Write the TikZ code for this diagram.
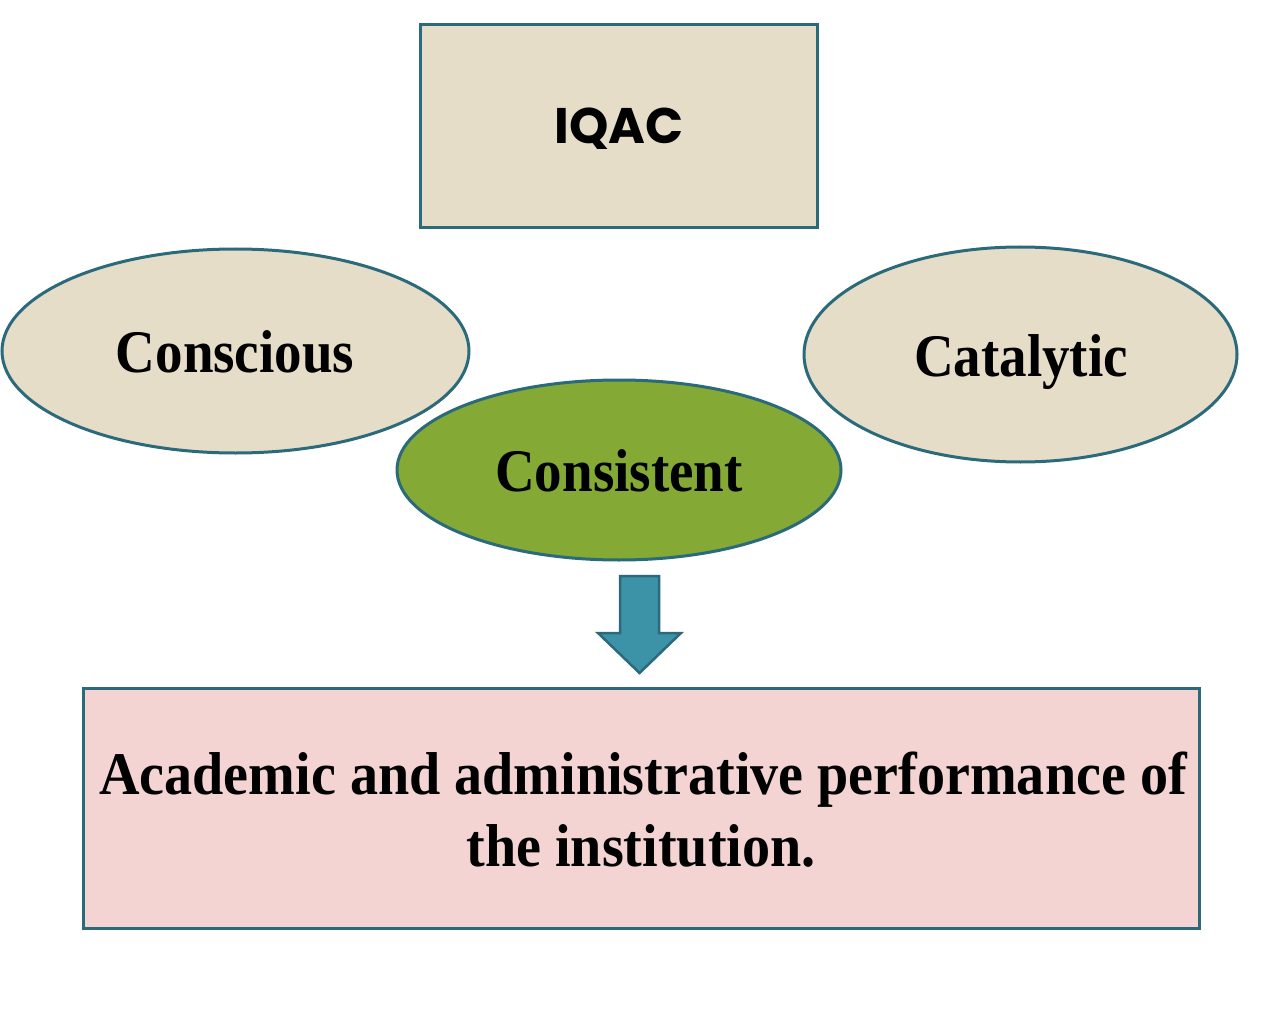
\documentclass[tikz,border=0pt]{standalone}
\usepackage{fontspec}
\setmainfont{Liberation Serif}
\newfontfamily\gothic{Poppins}
\usetikzlibrary{shapes.geometric}
\definecolor{tan}{HTML}{E5DDC8}
\definecolor{tealline}{HTML}{2A6A7A}
\definecolor{leaf}{HTML}{84A935}
\definecolor{arrowfill}{HTML}{3C93A8}
\definecolor{pinkbox}{HTML}{F4D3D3}
\newcommand{\tall}[2][1]{\scalebox{#1}[1.1]{#2}}
\tikzset{
  outl/.style={draw=tealline, line width=3pt},
  tanell/.style={outl, ellipse, fill=tan, inner sep=0pt},
  bigtext/.style={font=\fontsize{55}{70}\selectfont\bfseries, inner sep=0pt, anchor=base}
}
\begin{document}
\begin{tikzpicture}[x=1pt,y=-1pt]
\useasboundingbox (0,0) rectangle (1267,1011);
\node[outl, fill=tan, minimum width=397pt, minimum height=203pt, inner sep=0pt] (iqac) at (618.5,126.5) {};
\node[font=\gothic\fontsize{50}{58}\selectfont\bfseries, inner sep=0pt, anchor=base] (iqactext) at (619,144) {IQAC};
\node[tanell, minimum width=467pt, minimum height=204pt] (conscious) at (235.5,351) {};
\node[bigtext] (consciouslabel) at (235,372) {\tall{Conscious}};
\node[tanell, minimum width=433pt, minimum height=215pt] (catalytic) at (1020.5,354.5) {};
\node[bigtext] (catalyticlabel) at (1021,376) {\tall{Catalytic}};
\node[outl, ellipse, fill=leaf, inner sep=0pt, minimum width=444pt, minimum height=180pt] (consistent) at (619,470) {};
\node[bigtext] (consistentlabel) at (619,491) {\tall{Consistent}};
\node[outl, fill=pinkbox, minimum width=1116pt, minimum height=240pt, inner sep=0pt] (perf) at (641,808) {};
\node[bigtext] (perfline1) at (643,794) {\tall[1.02]{Academic and administrative performance of}};
\node[bigtext] (perfline2) at (641,866) {\tall[1.02]{the institution.}};
\coordinate (tip) at (639.5,673);
\draw[draw=tealline, line width=2.5pt, fill=arrowfill, line join=miter]
  (620,576) -- (659,576) -- (659,633) -- (681,633) -- (tip) -- (598,633) -- (620,633) -- cycle;
\end{tikzpicture}
\end{document}
